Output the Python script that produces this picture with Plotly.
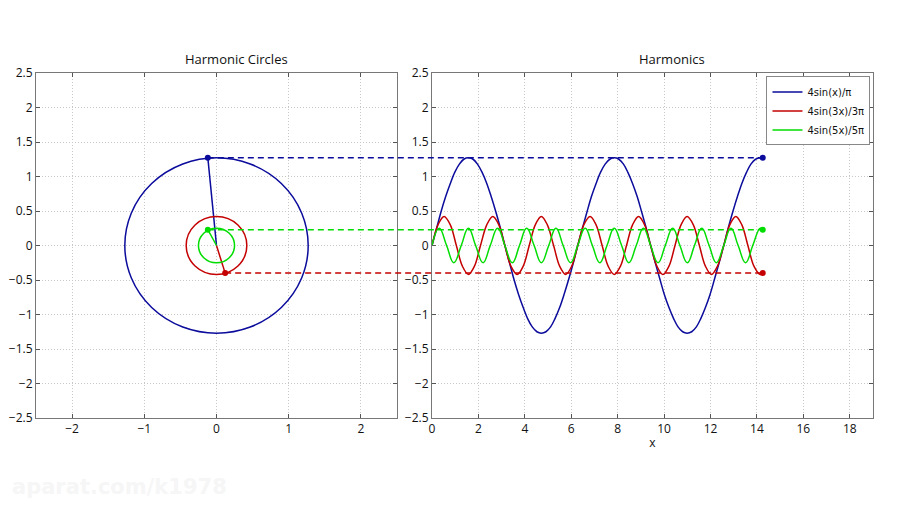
import plotly.graph_objects as go
from plotly.subplots import make_subplots

# harmonic curves
x_h1 = [0, 0.20, 0.39, 0.59, 0.79, 0.98, 1.18, 1.37, 1.57, 1.77, 1.96, 2.16, 2.36, 2.55, 2.75, 2.95,
        3.14, 3.34, 3.53, 3.73, 3.93, 4.12, 4.32, 4.52, 4.71, 4.91, 5.11, 5.30, 5.50, 5.69, 5.89, 6.09,
        6.28, 6.48, 6.68, 6.87, 7.07, 7.26, 7.46, 7.66, 7.85, 8.05, 8.25, 8.44, 8.64, 8.84, 9.03, 9.23,
        9.42, 9.62, 9.82, 10.01, 10.21, 10.41, 10.60, 10.80, 10.99, 11.19, 11.39, 11.58, 11.78, 11.98, 12.17, 12.37,
        12.57, 12.76, 12.96, 13.16, 13.35, 13.55, 13.74, 13.94, 14.14, 14.25]
y_h1 = [0, 0.25, 0.49, 0.71, 0.90, 1.06, 1.18, 1.25, 1.27, 1.25, 1.18, 1.06, 0.90, 0.71, 0.49, 0.25,
        0, -0.25, -0.49, -0.71, -0.90, -1.06, -1.18, -1.25, -1.27, -1.25, -1.18, -1.06, -0.90, -0.71, -0.49, -0.25,
        0, 0.25, 0.49, 0.71, 0.90, 1.06, 1.18, 1.25, 1.27, 1.25, 1.18, 1.06, 0.90, 0.71, 0.49, 0.25,
        0, -0.25, -0.49, -0.71, -0.90, -1.06, -1.18, -1.25, -1.27, -1.25, -1.18, -1.06, -0.90, -0.71, -0.49, -0.25,
        0, 0.25, 0.49, 0.71, 0.90, 1.06, 1.18, 1.25, 1.27, 1.265]

x_h3 = [0, 0.26, 0.52, 0.79, 1.05, 1.31, 1.57, 1.83, 2.09, 2.36, 2.62, 2.88, 3.14, 3.40, 3.67, 3.93,
        4.19, 4.45, 4.71, 4.97, 5.24, 5.50, 5.76, 6.02, 6.28, 6.54, 6.81, 7.07, 7.33, 7.59, 7.85,
        8.12, 8.38, 8.64, 8.90, 9.16, 9.42, 9.69, 9.95, 10.21, 10.47, 10.73, 10.99, 11.26, 11.52,
        11.78, 12.04, 12.30, 12.57, 12.83, 13.09, 13.35, 13.61, 13.87, 14.14, 14.25]
y_h3 = [0, 0.30, 0.42, 0.30, 0, -0.30, -0.42, -0.30, 0, 0.30, 0.42, 0.30, 0, -0.30, -0.42, -0.30,
        0, 0.30, 0.42, 0.30, 0, -0.30, -0.42, -0.30, 0, 0.30, 0.42, 0.30, 0, -0.30, -0.42,
        -0.30, 0, 0.30, 0.42, 0.30, 0, -0.30, -0.42, -0.30, 0, 0.30, 0.42, 0.30, 0,
        -0.30, -0.42, -0.30, 0, 0.30, 0.42, 0.30, 0, -0.30, -0.42, -0.40]

x_h5 = [0, 0.31, 0.63, 0.94, 1.26, 1.57, 1.88, 2.20, 2.51, 2.83, 3.14, 3.46, 3.77, 4.08, 4.40, 4.71,
        5.03, 5.34, 5.65, 5.97, 6.28, 6.60, 6.91, 7.23, 7.54, 7.85, 8.17, 8.48, 8.80, 9.11, 9.42,
        9.74, 10.05, 10.37, 10.68, 11.00, 11.31, 11.62, 11.94, 12.25, 12.57, 12.88, 13.19, 13.51,
        13.82, 14.14, 14.25]
y_h5 = [0, 0.25, 0, -0.25, 0, 0.25, 0, -0.25, 0, 0.25, 0, -0.25, 0, 0.25, 0, -0.25,
        0, 0.25, 0, -0.25, 0, 0.25, 0, -0.25, 0, 0.25, 0, -0.25, 0, 0.25, 0,
        -0.25, 0, 0.25, 0, -0.25, 0, 0.25, 0, -0.25, 0, 0.25, 0, -0.25,
        0, 0.25, 0.22]

names = ["4sin(x)/π", "4sin(3x)/3π", "4sin(5x)/5π"]
colors = ["#0b0b9c", "#c40000", "#00dd00"]
smooth = [1.0, 1.0, 1.3]

# circle radii and phasor tips in the left panel
radii = [1.27, 0.42, 0.25]
tip_x = [-0.12, 0.12, -0.12]
tip_y = [1.27, -0.40, 0.23]
x_end = 14.25

xl_range = [-2.5, 2.5]
xr_range = [0, 19]
y_range = [-2.5, 2.5]
dom_l = [0, 0.4313]
dom_r = [0.4731, 1]

fig = make_subplots(rows=1, cols=2, subplot_titles=["Harmonic Circles", "Harmonics"],
                    horizontal_spacing=0.04)

curves = [(x_h1, y_h1), (x_h3, y_h3), (x_h5, y_h5)]
for i, (xs, ys) in enumerate(curves):
    fig.add_trace(go.Scatter(x=xs, y=ys, mode="lines", name=names[i],
                             line=dict(color=colors[i], width=1.5, shape="spline", smoothing=smooth[i])),
                  row=1, col=2)

for i in range(3):
    r = radii[i]
    fig.add_shape(type="circle", x0=-r, y0=-r, x1=r, y1=r, xref="x", yref="y",
                  line=dict(color=colors[i], width=1.5))
    fig.add_trace(go.Scatter(x=[0, tip_x[i]], y=[0, tip_y[i]], mode="lines",
                             line=dict(color=colors[i], width=1.5), showlegend=False),
                  row=1, col=1)
    fig.add_trace(go.Scatter(x=[tip_x[i]], y=[tip_y[i]], mode="markers",
                             marker=dict(color=colors[i], size=6), showlegend=False),
                  row=1, col=1)
    fig.add_trace(go.Scatter(x=[x_end], y=[tip_y[i]], mode="markers",
                             marker=dict(color=colors[i], size=6), showlegend=False),
                  row=1, col=2)


def to_paper(v, rng, dom):
    return dom[0] + (v - rng[0]) / (rng[1] - rng[0]) * (dom[1] - dom[0])


for i in range(3):
    fig.add_shape(type="line", xref="paper", yref="y",
                  x0=to_paper(tip_x[i], xl_range, dom_l), x1=to_paper(x_end, xr_range, dom_r),
                  y0=tip_y[i], y1=tip_y[i],
                  line=dict(color=colors[i], width=1.5, dash="6px,4px"))

axis_style = dict(showgrid=True, gridcolor="#c8c8c8", griddash="1px,2px", gridwidth=1,
                  zeroline=False, showline=True, linecolor="#777777", linewidth=1, mirror="ticks",
                  ticks="inside", ticklen=4, tickcolor="#555555", automargin=False,
                  tickfont=dict(size=12, color="#111111"))

fig.update_xaxes(axis_style)
fig.update_yaxes(axis_style)
fig.update_xaxes(range=xl_range, dtick=1, domain=dom_l, row=1, col=1)
fig.update_xaxes(range=xr_range, dtick=2, domain=dom_r, row=1, col=2,
                 title=dict(text="x", font=dict(size=12), standoff=2))
fig.update_yaxes(range=y_range, dtick=0.5, row=1, col=1)
fig.update_yaxes(range=y_range, dtick=0.5, row=1, col=2)

for ann in fig.layout.annotations:
    ann.font = dict(size=13, color="#111111", family="Open Sans")
    ann.yshift = 3

fig.add_annotation(text="<b>aparat.com/k1978</b>", xref="paper", yref="paper", x=-0.031, y=-0.20,
                   xanchor="left", yanchor="middle", showarrow=False,
                   font=dict(size=21, color="#f6f6f6", family="DejaVu Sans"))

fig.update_layout(
    width=900, height=509,
    margin=dict(l=28, r=35, t=65, b=99, autoexpand=False),
    paper_bgcolor="white", plot_bgcolor="white",
    font=dict(family="Open Sans", size=12, color="#111111"),
    legend=dict(x=0.997, y=0.99, xanchor="right", yanchor="top",
                bgcolor="white", bordercolor="#888888", borderwidth=1,
                font=dict(size=10, family="DejaVu Sans"), tracegroupgap=0, itemwidth=30),
)

fig.write_html("out.html")
